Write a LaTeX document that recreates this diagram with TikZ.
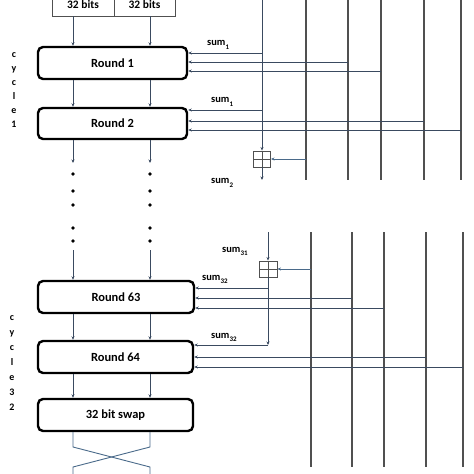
\documentclass[tikz,border=0pt]{standalone}
\usepackage{fontspec}
\setmainfont{Carlito}
\usetikzlibrary{arrows.meta,calc}
\definecolor{arrowc}{HTML}{3A4A60}
\definecolor{colc}{HTML}{505050}
\definecolor{addc}{HTML}{4A6A8A}
\newcommand\sumsub[1]{sum\raisebox{-0.6ex}{\fontsize{7}{8}\selectfont #1}}
\begin{document}
\begin{tikzpicture}[x=1bp,y=-1bp,
  roundbox/.style={draw=black, line width=2.4bp, rounded corners=5bp, inner sep=0pt,
    font=\fontsize{12.5}{14}\selectfont\bfseries},
  bitbox/.style={draw=colc, line width=0.9bp, inner sep=0pt, minimum height=22bp,
    font=\fontsize{11.5}{13}\selectfont\bfseries},
  arr/.style={draw=arrowc, line width=0.9bp, -{Stealth[length=3.5bp,width=3bp]}},
  xline/.style={draw=addc, line width=0.9bp},
  col/.style={draw=colc, line width=1.1bp},
  lbl/.style={font=\fontsize{10.5}{12}\selectfont\bfseries, anchor=base west, inner sep=0pt},
  cyc/.style={align=center, inner sep=0pt},
  adder/.style={draw=colc, line width=0.9bp, minimum width=17bp, minimum height=16bp, inner sep=0pt,
    path picture={\draw[colc, line width=0.9bp] (path picture bounding box.north) -- (path picture bounding box.south)
      (path picture bounding box.west) -- (path picture bounding box.east);}},
  dot/.style={fill=black}
]
\useasboundingbox (0,0) rectangle (474,474);

% column coordinates
\coordinate (cL) at (73,0);
\coordinate (cR) at (150,0);

% top input boxes
\node[bitbox, minimum width=62bp] (bl) at (83,5) {32 bits};
\node[bitbox, minimum width=61bp] (br) at (144.5,5) {32 bits};

% round boxes
\node[roundbox, minimum width=149bp, minimum height=32bp] (r1) at (112.5,63) {Round 1};
\node[roundbox, minimum width=149bp, minimum height=31bp] (r2) at (112.5,123.5) {Round 2};
\node[roundbox, minimum width=156bp, minimum height=32bp] (r63) at (116,297) {Round 63};
\node[roundbox, minimum width=155bp, minimum height=32bp] (r64) at (115.5,357) {Round 64};
\node[roundbox, minimum width=155bp, minimum height=32bp] (swap) at (115.5,415) {32 bit swap};

% cycle labels
\node[cyc, font=\fontsize{10}{14}\selectfont\bfseries] (cy1) at (14,90) {c\\y\\c\\l\\e\\1};
\node[cyc, font=\fontsize{10}{15}\selectfont\bfseries] (cy32) at (12,363) {c\\y\\c\\l\\e\\3\\2};

% vertical data arrows
\draw[arr] (bl.south -| cL) -- (r1.north -| cL);
\draw[arr] (br.south -| cR) -- (r1.north -| cR);
\draw[arr] (r1.south -| cL) -- (r2.north -| cL);
\draw[arr] (r1.south -| cR) -- (r2.north -| cR);
\coordinate (d1) at (0,163);
\draw[arr] (r2.south -| cL) -- (d1 -| cL);
\draw[arr] (r2.south -| cR) -- (d1 -| cR);
\foreach \y in {174,191,205,228,241} {
  \fill[dot] (73,\y) circle (1.8bp);
  \fill[dot] (150,\y) circle (1.8bp);
}
\coordinate (d2) at (0,250);
\draw[arr] (d2 -| cL) -- (r63.north -| cL);
\draw[arr] (d2 -| cR) -- (r63.north -| cR);
\draw[arr] (r63.south -| cL) -- (r64.north -| cL);
\draw[arr] (r63.south -| cR) -- (r64.north -| cR);
\draw[arr] (r64.south -| cL) -- (swap.north -| cL);
\draw[arr] (r64.south -| cR) -- (swap.north -| cR);

% crossing after swap
\coordinate (x1) at (0,447);
\coordinate (x2) at (0,467);
\coordinate (xb) at (0,480);
\draw[xline] (swap.south -| cL) -- (x1 -| cL) -- (x2 -| cR) -- (xb -| cR);
\draw[xline] (swap.south -| cR) -- (x1 -| cR) -- (x2 -| cL) -- (xb -| cL);

% ---------- top key schedule ----------
\foreach \x in {306,348,381,424,461} \draw[col] (\x,-2) -- (\x,180);
\node[adder] (a1) at (262,159) {};
\coordinate (ta) at (262,-2);
\coordinate (ba) at (262,180);
\draw[arr] (ta) -- (a1.north);
\draw[arr] (a1.south) -- (ba);
\coordinate (ai1) at (306,159);
\draw[arr, draw=addc] (ai1) -- (a1.east);
\coordinate (h1) at (262,53);
\coordinate (h2) at (348,62);
\coordinate (h3) at (381,71);
\coordinate (h4) at (262,110);
\coordinate (h5) at (424,121);
\coordinate (h6) at (461,130);
\foreach \h in {h1,h2,h3} \draw[arr] (\h) -- (\h -| r1.east);
\foreach \h in {h4,h5,h6} \draw[arr] (\h) -- (\h -| r2.east);

% ---------- bottom key schedule ----------
\foreach \x in {311,352,384,426,463} \draw[col] (\x,232) -- (\x,467);
\node[adder, minimum width=18bp] (a2) at (268,269) {};
\coordinate (tb) at (268,232);
\coordinate (k) at (268,345);
\draw[arr] (tb) -- (a2.north);
\draw[arr] (a2.south) -- (k);
\draw[arr] (k) -- (k -| r64.east);
\coordinate (ai2) at (311,269);
\draw[arr, draw=addc] (ai2) -- (a2.east);
\coordinate (g1) at (268,288);
\coordinate (g2) at (352,298);
\coordinate (g3) at (384,308);
\coordinate (g4) at (426,357);
\coordinate (g5) at (463,367);
\foreach \g in {g1,g2,g3} \draw[arr] (\g) -- (\g -| r63.east);
\foreach \g in {g4,g5} \draw[arr] (\g) -- (\g -| r64.east);

% labels
\node[lbl] (l1) at (207,46) {\sumsub{1}};
\node[lbl] (l2) at (211,103) {\sumsub{1}};
\node[lbl] (l3) at (211,184) {\sumsub{2}};
\node[lbl] (l4) at (222,252) {\sumsub{31}};
\node[lbl] (l5) at (202,280) {\sumsub{32}};
\node[lbl] (l6) at (211,338) {\sumsub{32}};
\end{tikzpicture}
\end{document}
